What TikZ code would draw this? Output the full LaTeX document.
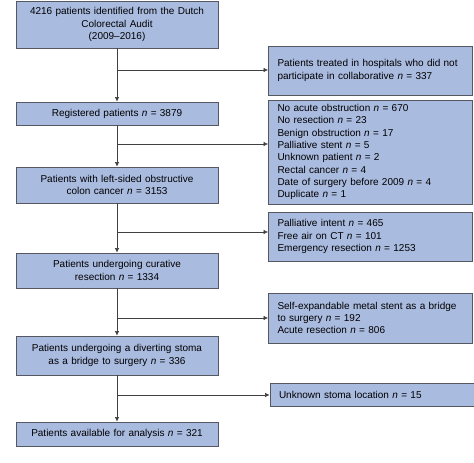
\documentclass[tikz,border=0pt]{standalone}
\usepackage{fontspec}
\setmainfont{Liberation Sans}
\usetikzlibrary{arrows.meta}
\definecolor{boxfill}{RGB}{170,187,224}
\definecolor{boxline}{RGB}{85,88,96}
\tikzset{
  base/.style={draw=boxline, line width=0.9pt, fill=boxfill, font=\fontsize{10}{12.3}\selectfont, inner ysep=2pt},
  leftbox/.style={base, align=center, text width=196pt, inner xsep=3pt, minimum width=202pt},
  rightbox/.style={base, align=left, text width=186pt, inner xsep=9pt, minimum width=203pt},
  flow/.style={line width=0.6pt, draw=black!75, -{Latex[length=4.5pt,width=4.5pt]}},
  branch/.style={line width=0.6pt, draw=black!75, -{Latex[length=4.5pt,width=4.5pt]}}
}
\newcommand{\nn}{\textit{n}}
\begin{document}
\begin{tikzpicture}[x=1pt,y=-1pt]
\useasboundingbox (0,0) rectangle (474,463);
% left column
\node[leftbox, minimum height=47pt] (l1) at (117,24.5) {4216 patients identified from the Dutch\\Colorectal Audit\\(2009--2016)};
\node[leftbox, minimum height=23pt] (l2) at (117,113.5) {Registered patients \nn{} = 3879};
\node[leftbox, minimum height=36pt] (l3) at (117,185) {Patients with left-sided obstructive\\colon cancer \nn{} = 3153};
\node[leftbox, minimum height=35pt] (l4) at (117,270.5) {Patients undergoing curative\\resection \nn{} = 1334};
\node[leftbox, minimum height=39pt] (l5) at (117,355.5) {Patients undergoing a diverting stoma\\as a bridge to surgery \nn{} = 336};
\node[leftbox, minimum height=24pt] (l6) at (117,434) {Patients available for analysis \nn{} = 321};
% right column
\node[rightbox, minimum height=49pt] (r1) at (370.5,70.5) {Patients treated in hospitals who did not\\participate in collaborative \nn{} = 337};
\node[rightbox, minimum height=104pt] (r2) at (370.5,152) {No acute obstruction \nn{} = 670\\No resection \nn{} = 23\\Benign obstruction \nn{} = 17\\Palliative stent \nn{} = 5\\Unknown patient \nn{} = 2\\Rectal cancer \nn{} = 4\\Date of surgery before 2009 \nn{} = 4\\Duplicate \nn{} = 1};
\node[rightbox, minimum height=49pt] (r3) at (370.5,236.5) {Palliative intent \nn{} = 465\\Free air on CT \nn{} = 101\\Emergency resection \nn{} = 1253};
\node[rightbox, minimum height=50pt] (r4) at (370.5,318) {Self-expandable metal stent as a bridge\\to surgery \nn{} = 192\\Acute resection \nn{} = 806};
\node[rightbox, minimum height=23pt] (r5) at (372,394.5) {Unknown stoma location \nn{} = 15};
% branch points
\coordinate (b1) at (117,70);
\coordinate (b2) at (117,144);
\coordinate (b3) at (117,232);
\coordinate (b4) at (117,318);
\coordinate (b5) at (117,395);
% main flow
\draw[flow] (l1) -- (l2);
\draw[flow] (l2) -- (l3);
\draw[flow] (l3) -- (l4);
\draw[flow] (l4) -- (l5);
\draw[flow] (l5) -- (l6);
% branches
\draw[branch] (b1) -- (b1 -| r1.west);
\draw[branch] (b2) -- (b2 -| r2.west);
\draw[branch] (b3) -- (b3 -| r3.west);
\draw[branch] (b4) -- (b4 -| r4.west);
\draw[branch] (b5) -- (b5 -| r5.west);
\end{tikzpicture}
\end{document}
